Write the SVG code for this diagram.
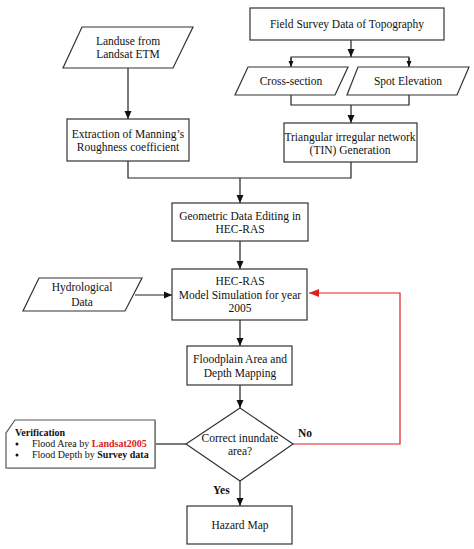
<svg xmlns="http://www.w3.org/2000/svg" width="474" height="549" viewBox="0 0 474 549">
<style>
.b{fill:#fff;stroke:#333;stroke-width:1.2}
.t{font-family:"Liberation Serif","Times New Roman",serif;font-size:11.5px;fill:#111;text-anchor:middle}
.s{font-family:"Liberation Serif","Times New Roman",serif;font-size:10px;fill:#111}
.l{fill:none;stroke:#222;stroke-width:1.2}
.r{fill:none;stroke:#e02020;stroke-width:1.2}
.lb{font-family:"Liberation Serif","Times New Roman",serif;font-size:11.5px;font-weight:bold;fill:#111}
</style>
<defs>
<marker id="ah" markerWidth="8" markerHeight="8" refX="8" refY="4" orient="auto" markerUnits="userSpaceOnUse"><path d="M0,0.5 L8,4 L0,7.5 Z" fill="#111"/></marker>
<marker id="ahs" markerWidth="6" markerHeight="6" refX="6" refY="3" orient="auto" markerUnits="userSpaceOnUse"><path d="M0,0.5 L6,3 L0,5.5 Z" fill="#111"/></marker>
<marker id="ahr" markerWidth="10" markerHeight="10" refX="10" refY="5" orient="auto" markerUnits="userSpaceOnUse"><path d="M0,1 L10,5 L0,9 Z" fill="#e02020"/></marker>
</defs>
<rect width="474" height="549" fill="#fff"/>
<g id="connectors">
<line class="l" x1="128" y1="68" x2="128" y2="119" marker-end="url(#ah)"/>
<line class="l" x1="351" y1="40" x2="351" y2="57" marker-end="url(#ah)"/>
<polyline class="l" points="291,66 291,57 409,57 409,66"/>
<line class="l" x1="291" y1="58" x2="291" y2="67" marker-end="url(#ahs)"/>
<line class="l" x1="409" y1="58" x2="409" y2="67" marker-end="url(#ahs)"/>
<polyline class="l" points="291,95 291,105 409,105 409,95"/>
<line class="l" x1="351" y1="105" x2="351" y2="123" marker-end="url(#ah)"/>
<polyline class="l" points="128,161 128,178 351,178 351,162"/>
<line class="l" x1="240" y1="178" x2="240" y2="203" marker-end="url(#ah)"/>
<line class="l" x1="240" y1="241" x2="240" y2="269" marker-end="url(#ah)"/>
<line class="l" x1="135" y1="295" x2="172" y2="295" marker-end="url(#ah)"/>
<line class="l" x1="240" y1="320" x2="240" y2="346" marker-end="url(#ah)"/>
<line class="l" x1="240" y1="385" x2="240" y2="408" marker-end="url(#ah)"/>
<line class="l" x1="155" y1="444" x2="186" y2="444"/>
<line class="l" x1="240" y1="481" x2="240" y2="506" marker-end="url(#ah)"/>
<polyline class="r" points="293,444 400,444 400,293 309,293" marker-end="url(#ahr)"/>
<text class="lb" x="298" y="437">No</text>
<text class="lb" x="213" y="494">Yes</text>
</g>
<g id="landuse">
<polygon class="b" points="82,27 193,27 173,68 63,68"/>
<text class="t" x="128" y="45">Landuse from</text>
<text class="t" x="128" y="58">Landsat ETM</text>
</g>
<g id="extraction">
<rect class="b" x="67" y="119" width="122" height="42"/>
<text class="t" x="128" y="138">Extraction of Manning’s</text>
<text class="t" x="128" y="151">Roughness coefficient</text>
</g>
<g id="fieldsurvey">
<rect class="b" x="250" y="8" width="194" height="32"/>
<text class="t" x="347" y="28">Field Survey Data of Topography</text>
</g>
<g id="crosssection">
<polygon class="b" points="248,67 348,67 335,95 235,95"/>
<text class="t" x="291" y="85">Cross-section</text>
</g>
<g id="spotelevation">
<polygon class="b" points="358,67 469,67 457,95 347,95"/>
<text class="t" x="408" y="85">Spot Elevation</text>
</g>
<g id="tin">
<rect class="b" x="284" y="123" width="133" height="39"/>
<text class="t" x="350" y="141">Triangular irregular network</text>
<text class="t" x="350" y="154">(TIN) Generation</text>
</g>
<g id="geometric">
<rect class="b" x="172" y="203" width="136" height="38"/>
<text class="t" x="240" y="220">Geometric Data Editing in</text>
<text class="t" x="240" y="233">HEC-RAS</text>
</g>
<g id="hecras">
<rect class="b" x="172" y="269" width="135" height="51"/>
<text class="t" x="240" y="285">HEC-RAS</text>
<text class="t" x="240" y="299">Model Simulation for year</text>
<text class="t" x="240" y="312">2005</text>
</g>
<g id="hydrological">
<polygon class="b" points="39,278 142,278 125,311 23,311"/>
<text class="t" x="82" y="291">Hydrological</text>
<text class="t" x="82" y="306">Data</text>
</g>
<g id="floodplain">
<rect class="b" x="187" y="346" width="105" height="39"/>
<text class="t" x="240" y="363">Floodplain Area and</text>
<text class="t" x="240" y="377">Depth Mapping</text>
</g>
<g id="decision">
<polygon class="b" points="240,408 293,444 240,481 186,444"/>
<text class="t" x="240" y="442">Correct inundate</text>
<text class="t" x="240" y="455">area?</text>
</g>
<g id="verification">
<polygon points="16,421 156,421 156,469 7,469 7,434" fill="#bbb"/>
<polygon class="b" points="15,420 155,420 155,468 6,468 6,433" style="stroke:#555"/>
<text class="s" x="15" y="436" font-weight="bold">Verification</text>
<circle cx="17" cy="444" r="1.5" fill="#111"/>
<circle cx="17" cy="455" r="1.5" fill="#111"/>
<text class="s" x="32" y="447">Flood Area by <tspan font-weight="bold" fill="#e02020">Landsat2005</tspan></text>
<text class="s" x="32" y="458">Flood Depth by <tspan font-weight="bold">Survey data</tspan></text>
</g>
<g id="hazard">
<rect class="b" x="187" y="506" width="105" height="38"/>
<text class="t" x="240" y="529">Hazard Map</text>
</g>
</svg>
